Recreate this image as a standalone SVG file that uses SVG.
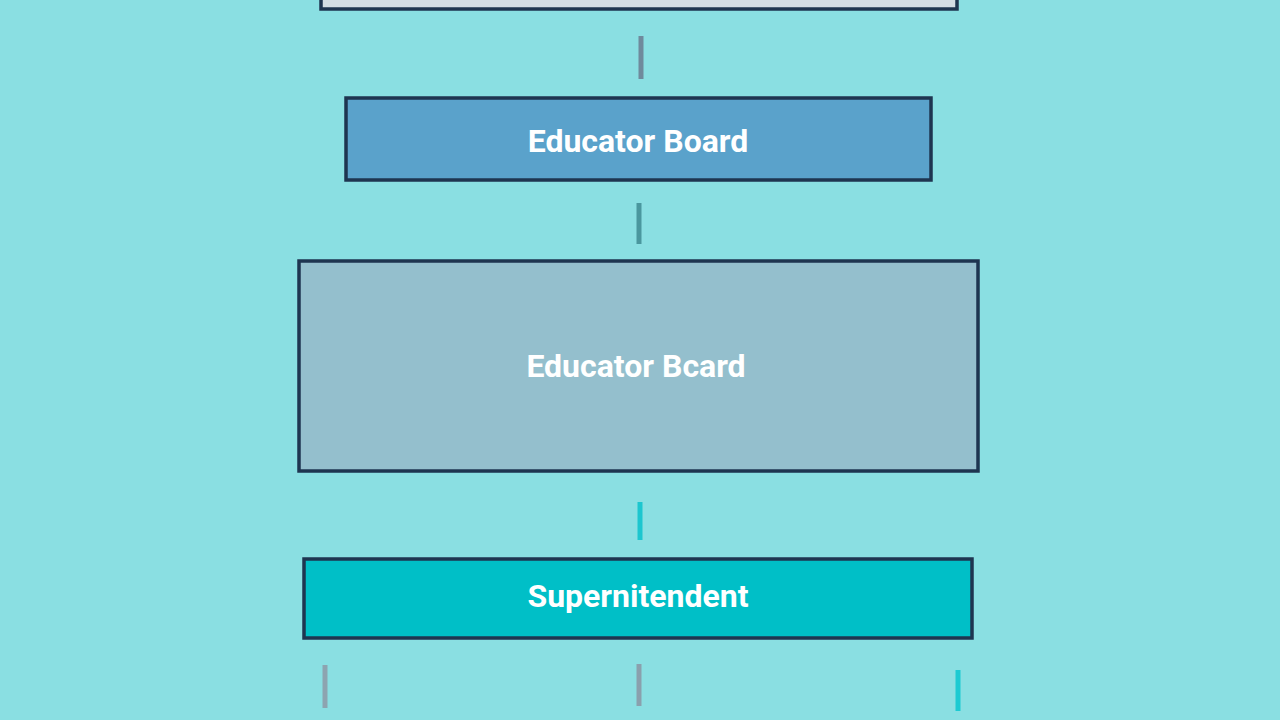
<svg xmlns="http://www.w3.org/2000/svg" width="1280" height="720" viewBox="0 0 1280 720">
<style>
.box{stroke:#1e3550;stroke-width:3.5}
.lbl{font-family:Roboto,"Liberation Sans",sans-serif;font-weight:700;font-size:32px;fill:#ffffff;text-anchor:middle;dominant-baseline:central}
.conn{stroke-width:5;stroke-linecap:butt}
</style>
<rect width="1280" height="720" fill="#8adfe2"/>
<g id="node-top"><rect class="box" x="321" y="-10" width="636" height="19" fill="#d3dde4"/></g>
<g id="node-educator-board"><rect class="box" x="346" y="98" width="585" height="82" fill="#5aa2cb"/><text class="lbl" x="638" y="141">Educator Board</text></g>
<g id="node-educator-bcard"><rect class="box" x="299" y="261" width="679" height="210" fill="#94bfcd"/><text class="lbl" x="636" y="366">Educator Bcard</text></g>
<g id="node-superintendent"><rect class="box" x="304" y="559" width="668" height="79" fill="#00bfc7"/><text class="lbl" x="638" y="596">Supernitendent</text></g>
<g id="connectors">
<line class="conn" x1="641" y1="36" x2="641" y2="79" stroke="#6f8a9c"/>
<line class="conn" x1="639" y1="203" x2="639" y2="244" stroke="#4a979e"/>
<line class="conn" x1="640" y1="502" x2="640" y2="540" stroke="#1cc6cf"/>
<line class="conn" x1="325" y1="665" x2="325" y2="708" stroke="#8da4b0"/>
<line class="conn" x1="639" y1="664" x2="639" y2="706" stroke="#8aa0ad"/>
<line class="conn" x1="958" y1="670" x2="958" y2="711" stroke="#1ccad2"/>
</g>
</svg>
